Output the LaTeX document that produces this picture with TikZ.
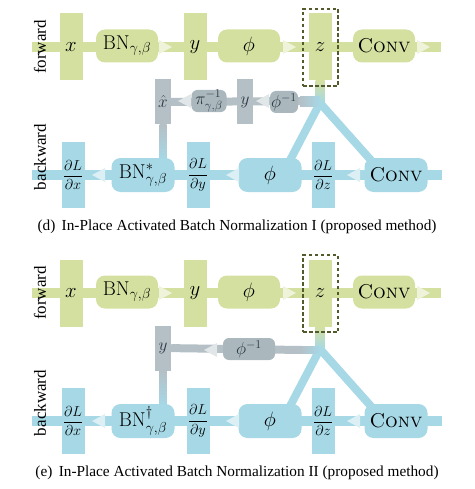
\documentclass[tikz,border=0pt]{standalone}
\usepackage{amsmath}
\usepackage{fontspec}
\usetikzlibrary{shapes.geometric,positioning,calc,backgrounds}
\newfontfamily\capfont{Liberation Serif}
\definecolor{fwdgreen}{RGB}{212,224,160}
\definecolor{bwdblue}{RGB}{166,216,230}
\definecolor{recgray}{RGB}{180,192,198}
\definecolor{boxgray}{RGB}{170,183,189}
\definecolor{zdash}{RGB}{85,90,45}
\definecolor{graytext}{RGB}{45,55,65}
\newcommand\bigmath{\fontsize{20}{20}\selectfont}
\newcommand\fracmath{\fontsize{14}{14}\selectfont}
\newcommand\graymath{\fontsize{17}{17}\selectfont}
\newcommand\dLd[1]{$\dfrac{\partial L}{\partial #1}$}

\tikzset{
  fwdrec/.style={fill=fwdgreen, minimum width=23pt, minimum height=67pt, inner sep=0pt, font=\bigmath},
  fwdbox/.style={fill=fwdgreen, rounded corners=9pt, minimum width=62pt, minimum height=33pt, inner sep=0pt, font=\bigmath},
  bwdrec/.style={fill=bwdblue, minimum width=23pt, minimum height=66pt, inner sep=0pt, font=\fracmath},
  bwdbox/.style={fill=bwdblue, rounded corners=9pt, minimum width=63pt, minimum height=34pt, inner sep=0pt, font=\bigmath},
  grayrec/.style={fill=recgray, minimum width=16pt, minimum height=45pt, inner sep=0pt, text=graytext, font=\graymath},
  graybox/.style={fill=boxgray, rounded corners=6pt, minimum height=22pt, inner sep=0pt, text=graytext, font=\graymath},
  zframe/.style={draw=zdash, line width=1.6pt, dash pattern=on 3.5pt off 2.5pt, minimum width=35pt, minimum height=77pt},
  sidelabel/.style={rotate=90, font=\capfont\fontsize{17}{17}\selectfont},
  caption/.style={font=\capfont\fontsize{15.3}{15.3}\selectfont},
  fwdbar/.style={draw=fwdgreen, line width=10pt},
  bwdbar/.style={draw=bwdblue, line width=10pt},
  graybar/.style={draw=recgray, line width=8pt},
  tipright/.pic={\fill (-6,-7) -- (7,0) -- (-6,7) -- cycle;},
  tipleft/.pic={\fill (6,-7) -- (-7,0) -- (6,7) -- cycle;}
}

\newcommand\panelrows[3]{%
  \begin{scope}[shift={(0,#2)}]
    \node[sidelabel] (#1fwdlab) at (40,47) {forward};
    \node[sidelabel] (#1bwdlab) at (40,157) {backward};
    \coordinate (#1fin) at (32,47);
    \coordinate (#1fout) at (441,47);
    \node[fwdrec] (#1x) at (71,47) {$x$};
    \node[fwdbox] (#1bn) at (127,46) {$\mathrm{BN}_{\gamma,\beta}$};
    \node[fwdrec] (#1y) at (195,47) {$y$};
    \node[fwdbox] (#1phi) at (249,46) {$\phi$};
    \node[fwdrec] (#1z) at (320,47) {$z$};
    \node[zframe] (#1zf) at (320.5,47.5) {};
    \node[fwdbox] (#1conv) at (384,46) {\textsc{Conv}};
    \pic[fill=fwdgreen!40!white] at (165,47) {tipright};
    \pic[fill=fwdgreen!40!white] at (289,47) {tipright};
    \pic[fill=fwdgreen!40!white] at (423,47) {tipright};
    \coordinate (#1bin) at (32,175);
    \coordinate (#1bout) at (442,175);
    \node[bwdrec] (#1dx) at (73,175) {\dLd{x}};
    \node[bwdbox] (#1bnb) at (143,175) {$\mathrm{BN}^{#3}_{\gamma,\beta}$};
    \node[bwdrec] (#1dy) at (198,175) {\dLd{y}};
    \node[bwdbox] (#1phib) at (270,175) {$\phi$};
    \node[bwdrec] (#1dz) at (323,175) {\dLd{z}};
    \node[bwdbox] (#1convb) at (396,175) {\textsc{Conv}};
    \pic[fill=bwdblue!40!white] at (99,175) {tipleft};
    \pic[fill=bwdblue!40!white] at (233,175) {tipleft};
    \pic[fill=bwdblue!40!white] at (354,175) {tipleft};
    \coordinate (#1jn) at (320,103);
    \coordinate (#1phitop) at (287,166);
    \coordinate (#1convtop) at (377,167);
    \begin{scope}[on background layer]
      \draw[fwdbar] (#1fin) -- (#1fout);
      \draw[bwdbar] (#1bin) -- (#1bout);
      \draw[bwdbar, line width=8pt, line join=round] (#1phitop) -- (#1jn) -- (#1convtop);
      \shade[top color=fwdgreen, bottom color=bwdblue] ($(#1z.south)+(-4.5,0)$) rectangle ($(#1jn)+(4.5,0)$);
    \end{scope}
  \end{scope}}

\begin{document}
\begin{tikzpicture}[x=1pt, y=-1pt]
  \useasboundingbox (0,0) rectangle (474,489);
  \panelrows{d}{0}{*}
  \node[grayrec] (dxh) at (163,102) {$\hat{x}$};
  \node[graybox, minimum width=35pt] (dpi) at (209,101) {$\pi^{-1}_{\gamma,\beta}$};
  \node[grayrec] (dyg) at (245,102) {$y$};
  \node[graybox, minimum width=28pt] (dphiinv) at (284,102) {$\phi^{-1}$};
  \pic[fill=recgray!40!white] at (185,101) {tipleft};
  \pic[fill=recgray!40!white] at (263,101) {tipleft};
  \coordinate (dgend) at (302,101);
  \begin{scope}[on background layer]
    \draw[graybar] (dxh) -- (dgend);
    \shade[left color=recgray, right color=bwdblue] ($(dgend)+(-2,-4)$) rectangle ($(djn)+(0,4)$);
    \shade[top color=recgray, bottom color=bwdblue] ($(dxh.south)+(-3.5,0)$) rectangle ($(dxh.south |- dbnb.north)+(3.5,2)$);
  \end{scope}
  \node[caption] (dcap) at (237,227) {(d)\, In-Place Activated Batch Normalization I (proposed method)};

  \panelrows{e}{246}{\dagger}
  \node[grayrec] (eyg) at (163,348) {$y$};
  \node[graybox, minimum width=52pt] (ephiinv) at (249,349) {$\phi^{-1}$};
  \pic[fill=recgray!40!white] at (211,350) {tipleft};
  \coordinate (egend) at (302,350);
  \begin{scope}[on background layer]
    \draw[graybar] (eyg) -- (egend);
    \shade[left color=recgray, right color=bwdblue] ($(egend)+(-2,-4)$) rectangle ($(ejn)+(0,4)$);
    \shade[top color=recgray, bottom color=bwdblue] ($(eyg.south)+(-3.5,0)$) rectangle ($(eyg.south |- ebnb.north)+(3.5,2)$);
  \end{scope}
  \node[caption] (ecap) at (237,473) {(e)\, In-Place Activated Batch Normalization II (proposed method)};
\end{tikzpicture}
\end{document}
